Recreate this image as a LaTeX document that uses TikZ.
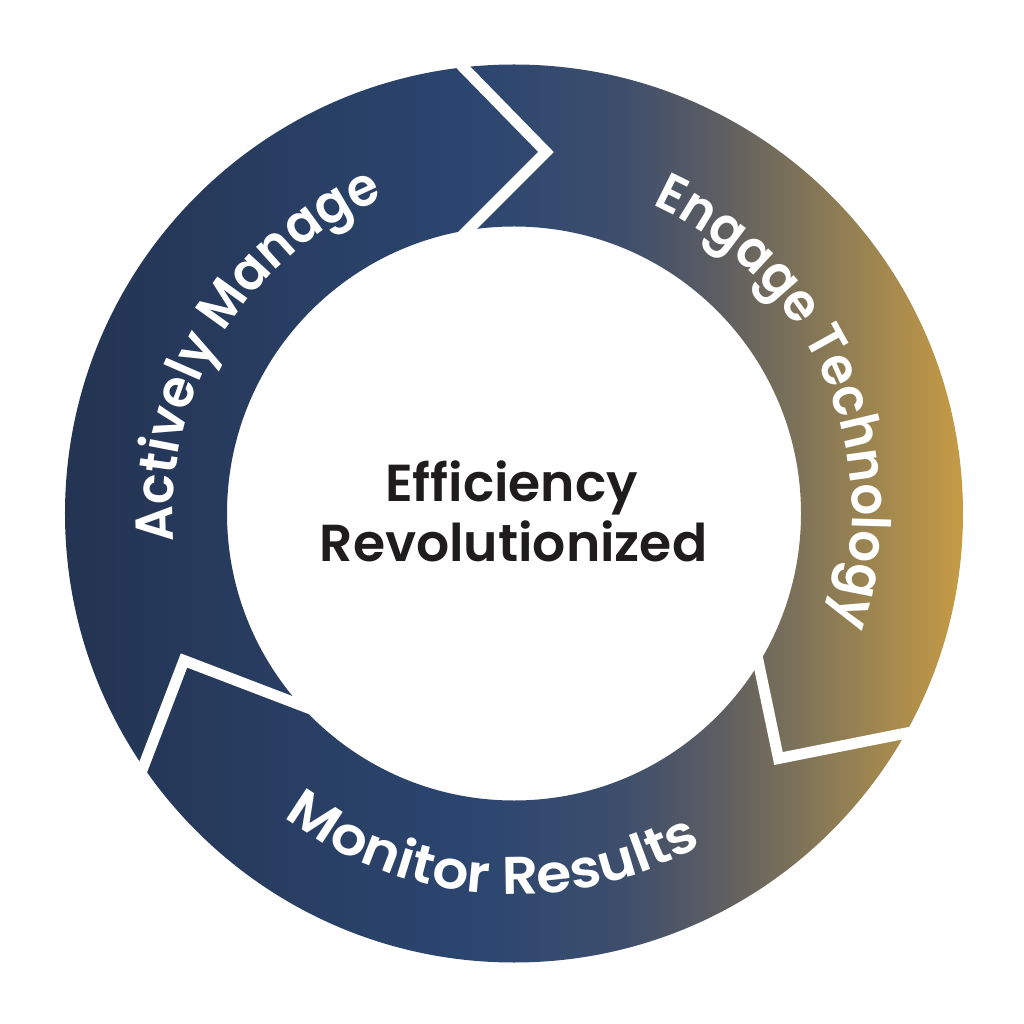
\documentclass[tikz,border=0pt]{standalone}
\usepackage{fontspec}
\newfontfamily\popsb{Poppins SemiBold}
\newfontfamily\popAM{Poppins SemiBold}[FakeStretch=0.95]
\newfontfamily\popET{Poppins SemiBold}[FakeStretch=0.94]
\newfontfamily\popMR{Poppins SemiBold}[FakeStretch=1.07]
\usetikzlibrary{decorations.text,calc}
\definecolor{cA}{HTML}{243452}
\definecolor{cB}{HTML}{2C4670}
\definecolor{cC}{HTML}{3D4E6C}
\definecolor{cD}{HTML}{5D5E61}
\definecolor{cE}{HTML}{927F53}
\definecolor{cF}{HTML}{C69B45}
\definecolor{inkblack}{HTML}{1F1C1E}
\pgfdeclarehorizontalshading{ringshade}{100bp}{color(0bp)=(cA); color(25bp)=(cA); color(48bp)=(cB); color(56bp)=(cC); color(61.5bp)=(cD); color(68.5bp)=(cE); color(75bp)=(cF); color(100bp)=(cF)}
\tikzset{
  gapline/.style={draw=white, line width=11pt, line join=miter, line cap=butt},
  ringlabel/.style 2 args={decorate, decoration={text along path, text align=center, text color=white, text={|#1\fontsize{53}{60}\selectfont|#2}}},
  centertext/.style={font=\popsb\fontsize{52}{60}\selectfont, text=inkblack, anchor=base, inner sep=0pt}
}
\begin{document}
\begin{tikzpicture}[x=1pt,y=1pt]
\useasboundingbox (-514,-510.5) rectangle (510,513.5);
\shade[shading=ringshade, even odd rule] (0,0) circle[radius=449pt] (0,0) circle[radius=287pt];
% chevron gaps
\coordinate (tO) at (-50.5,446);
\coordinate (tV) at (32,361.5);
\coordinate (tI) at (-46.5,283);
\coordinate (rO) at (385,-221);
\coordinate (rV) at (264.5,-245);
\coordinate (rI) at (243.5,-144.5);
\coordinate (lO) at (-370,-251.5);
\coordinate (lV) at (-330,-147);
\coordinate (lI) at (-211,-192.5);
\draw[gapline] ($(tV)!1.25!(tO)$) -- (tV) -- ($(tV)!1.4!(tI)$);
\draw[gapline] ($(rV)!1.25!(rO)$) -- (rV) -- ($(rV)!1.4!(rI)$);
\draw[gapline] ($(lV)!1.25!(lO)$) -- (lV) -- ($(lV)!1.4!(lI)$);
% labels
\path[ringlabel={\popAM}{Actively Manage}] (208.6:341pt) arc[start angle=208.6, end angle=88.6, radius=341pt];
\path[ringlabel={\popET}{Engage Technology}] (83.4:338pt) arc[start angle=83.4, end angle=-36.6, radius=338pt];
\path[ringlabel={\popMR}{Monitor Results}] (206.2:381pt) arc[start angle=206.2, end angle=326.2, radius=381pt];
% center
\node[centertext] (eff) at (-2.5,11.8) {Efficiency};
\node[centertext] (rev) at (-0.5,-48.2) {Revolutionized};
\end{tikzpicture}
\end{document}
